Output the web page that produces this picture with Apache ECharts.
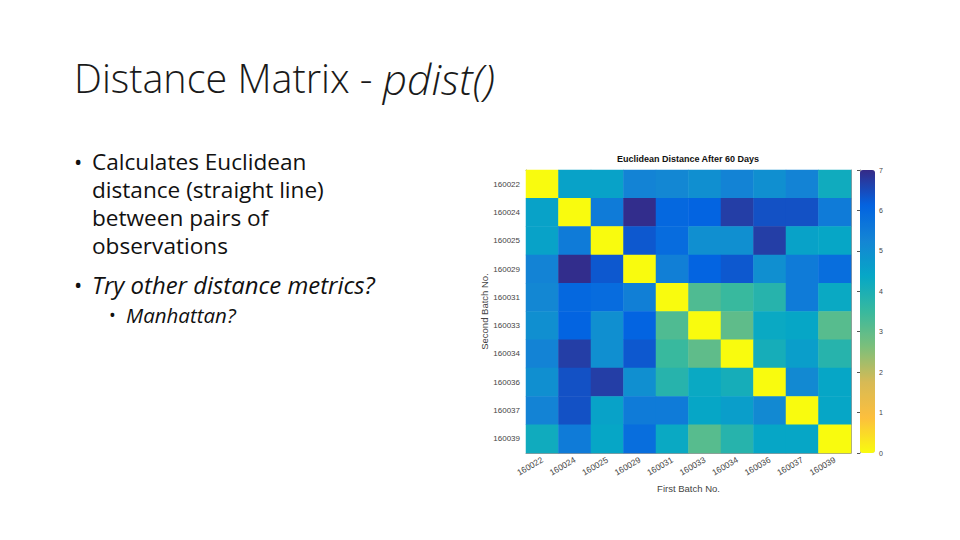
<!DOCTYPE html>
<html>
<head>
<meta charset="utf-8">
<script src="https://cdn.jsdelivr.net/npm/echarts@6/dist/echarts.min.js"></script>
<style>
html,body{margin:0;padding:0;background:#fff;}
#chart{width:960px;height:540px;}
</style>
</head>
<body>
<div id="chart"></div>
<script>
// Batch numbers (categories for both axes)
const batches = ['160022','160024','160025','160029','160031','160033','160034','160036','160037','160039'];
// Euclidean distance rows (row = Second Batch No., column = First Batch No.)
const row160022 = [0, 4.5, 4.5, 5.3, 5.2, 5.0, 5.3, 5.0, 5.3, 4.2];
const row160024 = [4.5, 0, 5.5, 6.95, 6.0, 6.1, 6.7, 6.4, 6.4, 5.5];
const row160025 = [4.5, 5.5, 0, 6.3, 5.9, 5.0, 5.0, 6.7, 4.5, 4.4];
const row160029 = [5.3, 6.95, 6.3, 0, 5.4, 6.1, 6.3, 5.0, 5.5, 5.85];
const row160031 = [5.2, 6.0, 5.9, 5.4, 0, 3.2, 3.5, 3.8, 5.5, 4.3];
const row160033 = [5.0, 6.1, 5.0, 6.1, 3.2, 0, 3.0, 4.3, 4.4, 3.1];
const row160034 = [5.3, 6.7, 5.0, 6.3, 3.5, 3.0, 0, 4.1, 4.6, 3.8];
const row160036 = [5.0, 6.4, 6.7, 5.0, 3.8, 4.3, 4.1, 0, 5.15, 4.4];
const row160037 = [5.3, 6.4, 4.5, 5.5, 5.5, 4.4, 4.6, 5.15, 0, 4.4];
const row160039 = [4.2, 5.5, 4.4, 5.85, 4.3, 3.1, 3.8, 4.4, 4.4, 0];
const rows = [row160022,row160024,row160025,row160029,row160031,row160033,row160034,row160036,row160037,row160039];
// Colour bar range
const colorMin = 0, colorMax = 7;
// Parula colour map, low (yellow) to high (dark blue)
const parula = ['#f9fb0e','#fcbf3d','#d7ba55','#7cbf7b','#38b99e','#06a7c6','#1485d4','#0363e1','#352a87'];

const cells = [];
rows.forEach((r, yi) => r.forEach((v, xi) => cells.push([xi, yi, v])));

const chart = echarts.init(document.getElementById('chart'), null, {renderer: 'svg'});
const FONT = '"Liberation Sans", Arial, sans-serif';
const SLIDE = '"Open Sans", "Lato", sans-serif';
const axisLine = {show: true, lineStyle: {color: '#9a9a9a', width: 1}};
const tick = {show: true, inside: true, length: 3, alignWithLabel: true, lineStyle: {color: '#555'}};

chart.setOption({
  animation: false,
  backgroundColor: '#fff',
  textStyle: {fontFamily: FONT},
  title: {
    text: 'Euclidean Distance After 60 Days',
    left: 688, top: 154, textAlign: 'center', padding: 0,
    textStyle: {fontSize: 9, fontWeight: 'bold', color: '#111', fontFamily: FONT}
  },
  grid: [
    {left: 526, top: 170, width: 325, height: 283},
    {left: 860, top: 170, width: 15, height: 283}
  ],
  xAxis: [
    {type: 'category', gridIndex: 0, data: batches, position: 'bottom',
     axisLine, axisTick: tick, splitLine: {show: false},
     axisLabel: {rotate: 30, fontSize: 8.5, color: '#444', margin: 6},
     name: 'First Batch No.', nameLocation: 'middle', nameGap: 28,
     nameTextStyle: {fontSize: 9.5, color: '#444'}},
    {type: 'category', gridIndex: 0, data: batches, position: 'top',
     axisLine, axisTick: tick, axisLabel: {show: false}},
    {type: 'value', gridIndex: 1, show: false, min: 0, max: 1}
  ],
  yAxis: [
    {type: 'category', gridIndex: 0, data: batches, inverse: true, position: 'left',
     axisLine, axisTick: tick, splitLine: {show: false},
     axisLabel: {fontSize: 8, color: '#444', margin: 6},
     name: 'Second Batch No.', nameLocation: 'middle', nameGap: 34,
     nameTextStyle: {fontSize: 9.5, color: '#444'}},
    {type: 'category', gridIndex: 0, data: batches, inverse: true, position: 'right',
     axisLine, axisTick: tick, axisLabel: {show: false}},
    {type: 'value', gridIndex: 1, min: colorMin, max: colorMax, interval: 1, position: 'right',
     axisLine, axisTick: {show: true, inside: true, length: 3, lineStyle: {color: '#555'}},
     splitLine: {show: false},
     axisLabel: {fontSize: 7, color: '#444', margin: 4}}
  ],
  visualMap: {
    type: 'continuous', min: colorMin, max: colorMax, seriesIndex: 0,
    calculable: false, show: true, orient: 'vertical',
    left: 860, top: 170, itemWidth: 15, itemHeight: 283, padding: 0,
    inRange: {color: parula}, text: null
  },
  series: [{
    type: 'heatmap', xAxisIndex: 0, yAxisIndex: 0, data: cells,
    itemStyle: {borderWidth: 0}, emphasis: {disabled: true}
  }],
  graphic: [
    {type: 'text', x: 74, y: 78, style: {
      text: '{a|Distance Matrix - }{b|pdist()}', verticalAlign: 'middle',
      rich: {
        a: {fontFamily: SLIDE, fontSize: 39.5, fontWeight: 300, fill: '#1a1a1a', color: '#1a1a1a'},
        b: {fontFamily: SLIDE, fontSize: 42.5, fontWeight: 300, fontStyle: 'italic', fill: '#1a1a1a', color: '#1a1a1a'}
      }}},
    {type: 'text', x: 74, y: 161, style: {text: '•', font: '22px ' + SLIDE, fill: '#111', verticalAlign: 'middle'}},
    {type: 'text', x: 92, y: 161, style: {text: 'Calculates Euclidean', font: '22.6px ' + SLIDE, fill: '#111', verticalAlign: 'middle'}},
    {type: 'text', x: 92, y: 189, style: {text: 'distance (straight line)', font: '22.6px ' + SLIDE, fill: '#111', verticalAlign: 'middle'}},
    {type: 'text', x: 92, y: 217, style: {text: 'between pairs of', font: '22.6px ' + SLIDE, fill: '#111', verticalAlign: 'middle'}},
    {type: 'text', x: 92, y: 245, style: {text: 'observations', font: '22.6px ' + SLIDE, fill: '#111', verticalAlign: 'middle'}},
    {type: 'text', x: 74, y: 284, style: {text: '•', font: '22px ' + SLIDE, fill: '#111', verticalAlign: 'middle'}},
    {type: 'text', x: 92, y: 284, style: {text: 'Try other distance metrics?', font: 'italic 23.9px ' + SLIDE, fill: '#111', verticalAlign: 'middle'}},
    {type: 'text', x: 109, y: 315, style: {text: '•', font: '18px ' + SLIDE, fill: '#111', verticalAlign: 'middle'}},
    {type: 'text', x: 126, y: 315, style: {text: 'Manhattan?', font: 'italic 20.5px ' + SLIDE, fill: '#111', verticalAlign: 'middle'}}
  ]
});
</script>
</body>
</html>
